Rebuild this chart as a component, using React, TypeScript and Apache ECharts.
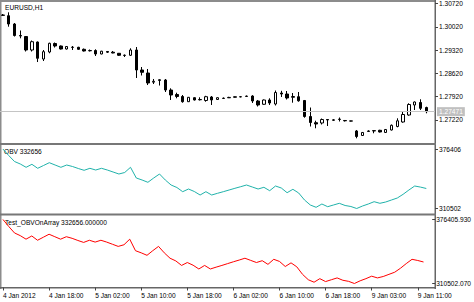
import React, { useEffect, useRef } from "react";
import * as echarts from "echarts";

// ---------- data ----------
const daySegments = [
  { day: "4 Jan", from: 10, to: 23 },
  { day: "5 Jan", from: 0, to: 23 },
  { day: "6 Jan", from: 0, to: 22 },
  { day: "9 Jan", from: 0, to: 13 },
];
const categories: string[] = [];
daySegments.forEach((s) => {
  for (let h = s.from; h <= s.to; h++) categories.push(`${s.day} ${String(h).padStart(2, "0")}:00`);
});

const timeTickIndex = [0, 8, 16, 24, 32, 40, 48, 56, 64, 72];
const timeTickLabels = [
  "4 Jan 2012", "4 Jan 18:00", "5 Jan 02:00", "5 Jan 10:00", "5 Jan 18:00",
  "6 Jan 02:00", "6 Jan 10:00", "6 Jan 18:00", "9 Jan 03:00", "9 Jan 11:00",
];

const open = [
  1.30374, 1.30353, 1.30104, 1.29758, 1.29728, 1.29323, 1.29563, 1.29052, 1.29263, 1.29518,
  1.29443, 1.29353, 1.29407, 1.29404, 1.29344, 1.29299, 1.29308, 1.29203, 1.29278, 1.29257,
  1.29224, 1.29158, 1.29164, 1.29323, 1.28722, 1.28632, 1.28356, 1.28407, 1.28422, 1.28121,
  1.27986, 1.27926, 1.2777, 1.2789, 1.27836, 1.27806, 1.27911, 1.27836, 1.27866, 1.27887,
  1.27917, 1.27914, 1.27926, 1.27941, 1.27791, 1.27692, 1.27821, 1.27701, 1.28031, 1.28001,
  1.27902, 1.2792, 1.27806, 1.27325, 1.27139, 1.2713, 1.27235, 1.27211, 1.27235, 1.27205,
  1.27193, 1.2689, 1.26754, 1.26875, 1.2689, 1.26911, 1.26845, 1.2692, 1.27025, 1.2716,
  1.2737, 1.27671, 1.27746, 1.27595,
];
const close = [
  1.30365, 1.30104, 1.29758, 1.29743, 1.29323, 1.29572, 1.29074, 1.29272, 1.29524, 1.29443,
  1.29353, 1.29428, 1.29401, 1.29344, 1.29293, 1.29308, 1.29203, 1.29287, 1.29257, 1.29233,
  1.29164, 1.29167, 1.29323, 1.28722, 1.28653, 1.28332, 1.28383, 1.28431, 1.28121, 1.27971,
  1.27926, 1.2777, 1.27902, 1.27821, 1.27827, 1.2792, 1.27821, 1.2789, 1.27875, 1.27899,
  1.27905, 1.2792, 1.27938, 1.27791, 1.27671, 1.27821, 1.27731, 1.28046, 1.28001, 1.27881,
  1.27926, 1.27797, 1.27325, 1.27145, 1.271, 1.27235, 1.2722, 1.27226, 1.27247, 1.27196,
  1.27187, 1.26724, 1.26845, 1.2689, 1.26902, 1.2686, 1.26935, 1.27061, 1.27196, 1.27385,
  1.27686, 1.27761, 1.27571, 1.27471,
];
const low = [
  1.30344, 1.30023, 1.29728, 1.29674, 1.29278, 1.29278, 1.28962, 1.28992, 1.29224, 1.29398,
  1.29338, 1.29338, 1.29323, 1.29329, 1.29278, 1.29278, 1.29143, 1.29194, 1.29233, 1.29224,
  1.29143, 1.29113, 1.29143, 1.28482, 1.28557, 1.28271, 1.28301, 1.28256, 1.28061, 1.27821,
  1.27872, 1.2774, 1.27761, 1.27806, 1.27806, 1.2777, 1.27671, 1.27821, 1.27851, 1.27881,
  1.27893, 1.27902, 1.27917, 1.27731, 1.27626, 1.27677, 1.27671, 1.27656, 1.27911, 1.27836,
  1.2774, 1.2777, 1.27289, 1.27025, 1.26971, 1.27085, 1.2704, 1.2719, 1.27175, 1.27175,
  1.27178, 1.2667, 1.26739, 1.2686, 1.26821, 1.26845, 1.2683, 1.26905, 1.27001, 1.27139,
  1.27349, 1.2752, 1.2752, 1.27421,
];
const high = [
  1.30404, 1.30455, 1.30134, 1.29909, 1.29743, 1.29608, 1.29578, 1.29323, 1.29542, 1.29548,
  1.29458, 1.29443, 1.29443, 1.29419, 1.29368, 1.29338, 1.29344, 1.29299, 1.29293, 1.29293,
  1.29233, 1.29188, 1.29374, 1.29413, 1.28812, 1.28752, 1.28452, 1.28443, 1.28452, 1.28172,
  1.2804, 1.27971, 1.27911, 1.27902, 1.27902, 1.27947, 1.27941, 1.27902, 1.27896, 1.27917,
  1.27926, 1.27935, 1.27956, 1.27965, 1.27821, 1.27836, 1.27872, 1.28106, 1.28097, 1.28091,
  1.28031, 1.28061, 1.27821, 1.27595, 1.27199, 1.27265, 1.2725, 1.2725, 1.27295, 1.2722,
  1.27199, 1.2692, 1.2686, 1.26911, 1.26914, 1.26926, 1.2695, 1.27085, 1.27271, 1.27469,
  1.27722, 1.27776, 1.27842, 1.2762,
];
const obv = [
  376406, 369205, 362559, 359790, 356135, 359458, 355028, 358129, 361230, 358683,
  356135, 358683, 357021, 354806, 352812, 355028, 353145, 355028, 353145, 350929,
  348714, 350376, 356135, 344284, 342069, 339521, 344284, 348714, 342069, 336531,
  333762, 329110, 332100, 329331, 325455, 329110, 325455, 327338, 329110, 330993,
  332876, 334648, 336531, 334315, 332100, 333983, 330217, 335423, 333208, 328002,
  331768, 327670, 319917, 314379, 311831, 315486, 312496, 314379, 316262, 313825,
  312717, 310502, 313271, 315486, 318034, 316262, 317701, 319917, 322132, 326230,
  330993, 335423, 334200, 332656,
];

const priceTicks = [1.2722, 1.2792, 1.2862, 1.2932, 1.3002, 1.3072];
const obvTicks = [310502, 376406];
const testTicks = [310502.07, 376405.93];
const lastPrice = 1.27471;
const symbolTitle = "EURUSD,H1";

// ---------- layout / style ----------
const FONT = '"Liberation Sans", Arial, sans-serif';
const FS = 6.6;
const PLOT_W = 435;

export default function App() {
  const ref = useRef<HTMLDivElement>(null);
  useEffect(() => {
    const chart = echarts.init(ref.current!, null, { renderer: "svg" });
    const tickShow = (i: number) => timeTickIndex.includes(i);
    const labelStyle = { fontSize: FS, fontFamily: FONT, color: "#000" };
    const lastObv = obv[obv.length - 1];

    const option: any = {
      animation: false,
      backgroundColor: "#fff",
      textStyle: { fontFamily: FONT },
      grid: [
        { left: 0, top: 2, width: PLOT_W, height: 141 },
        { left: 0, top: 149, width: PLOT_W, height: 59.5 },
        { left: 0, top: 219.5, width: PLOT_W, height: 64 },
      ],
      xAxis: [0, 1, 2].map((g) => ({
        type: "category",
        gridIndex: g,
        data: categories,
        boundaryGap: true,
        show: g === 2,
        offset: g === 2 ? 4 : 0,
        axisLine: { show: false },
        splitLine: { show: false },
        axisTick: {
          show: g === 2,
          interval: (i: number) => tickShow(i),
          alignWithLabel: true,
          length: 3,
          lineStyle: { color: "#444", width: 1 },
        },
        axisLabel: {
          show: g === 2,
          interval: (i: number) => tickShow(i),
          formatter: (_v: string, i: number) => {
            const k = timeTickIndex.indexOf(i);
            return k >= 0 ? timeTickLabels[k] : "";
          },
          align: "left",
          margin: 4,
          ...labelStyle,
        },
      })),
      yAxis: [
        {
          type: "value", gridIndex: 0, position: "right",
          min: 1.26529, max: 1.30765,
          axisLine: { show: false }, splitLine: { show: false },
          axisTick: { show: true, customValues: priceTicks, length: 3, lineStyle: { color: "#444" } },
          axisLabel: { customValues: priceTicks, formatter: (v: number) => v.toFixed(5), margin: 4, ...labelStyle },
        },
        {
          type: "value", gridIndex: 1, position: "right",
          min: obvTicks[0], max: obvTicks[1],
          axisLine: { show: false }, splitLine: { show: false },
          axisTick: { show: true, customValues: obvTicks, length: 3, lineStyle: { color: "#444" } },
          axisLabel: { customValues: obvTicks, formatter: (v: number) => String(Math.round(v)), margin: 4, ...labelStyle },
        },
        {
          type: "value", gridIndex: 2, position: "right",
          min: testTicks[0], max: testTicks[1],
          axisLine: { show: false }, splitLine: { show: false },
          axisTick: { show: true, customValues: testTicks, length: 3, lineStyle: { color: "#444" } },
          axisLabel: { customValues: testTicks, formatter: (v: number) => v.toFixed(3), margin: 4, ...labelStyle },
        },
      ],
      series: [
        {
          type: "line",
          xAxisIndex: 0,
          yAxisIndex: 0,
          data: [],
          z: 1,
          silent: true,
          markLine: {
            silent: true,
            precision: 5,
            symbol: ["none", "none"],
            data: [{ yAxis: lastPrice }],
            lineStyle: { color: "#c4c4c4", width: 1, type: "solid" },
            label: {
              position: "end",
              formatter: lastPrice.toFixed(5),
              color: "#fff",
              backgroundColor: "#c0c0c0",
              fontSize: FS,
              fontFamily: FONT,
              padding: [1, 2, 1, 2],
              distance: 2,
            },
          },
        },
        {
          type: "candlestick",
          xAxisIndex: 0,
          yAxisIndex: 0,
          z: 2,
          data: open.map((o, i) => [o, close[i], low[i], high[i]]),
          barWidth: 3,
          itemStyle: {
            color: "#fff", color0: "#000",
            borderColor: "#000", borderColor0: "#000", borderColorDoji: "#000",
            borderWidth: 1,
          },
        },
        {
          type: "line", xAxisIndex: 1, yAxisIndex: 1, data: obv,
          showSymbol: false, symbol: "none",
          lineStyle: { color: "#20b2aa", width: 1 },
        },
        {
          type: "line", xAxisIndex: 2, yAxisIndex: 2, data: obv,
          showSymbol: false, symbol: "none",
          lineStyle: { color: "#ff0000", width: 1 },
        },
      ],
      graphic: [
        { type: "rect", silent: true, shape: { x: 0, y: 0, width: 436, height: 2 }, style: { fill: "#8c8c8c" } },
        { type: "rect", silent: true, shape: { x: 0, y: 0, width: 1.5, height: 289 }, style: { fill: "#8c8c8c" } },
        { type: "rect", silent: true, shape: { x: 434.5, y: 0, width: 1.5, height: 289 }, style: { fill: "#666" } },
        { type: "rect", silent: true, shape: { x: 0, y: 143, width: 436, height: 2 }, style: { fill: "#777" } },
        { type: "rect", silent: true, shape: { x: 0, y: 213.5, width: 436, height: 2 }, style: { fill: "#777" } },
        { type: "rect", silent: true, shape: { x: 0, y: 287, width: 436, height: 1.5 }, style: { fill: "#666" } },
        {
          type: "text", x: 5, y: 7, silent: true,
          style: { text: symbolTitle, fontSize: FS, fontFamily: FONT, fill: "#000", verticalAlign: "middle" },
        },
        {
          type: "text", x: 4, y: 151, silent: true,
          style: { text: `OBV ${lastObv}`, fontSize: FS, fontFamily: FONT, fill: "#000", verticalAlign: "middle" },
        },
        {
          type: "text", x: 5, y: 222.3, silent: true,
          style: { text: `Test_OBVOnArray ${lastObv.toFixed(6)}`, fontSize: FS, fontFamily: FONT, fill: "#000", verticalAlign: "middle" },
        },
      ],
    };
    chart.setOption(option);
    return () => chart.dispose();
  }, []);
  return (
    <div
      ref={ref}
      style={{ position: "fixed", left: 0, top: 0, width: 474, height: 302, background: "#fff" }}
    />
  );
}
